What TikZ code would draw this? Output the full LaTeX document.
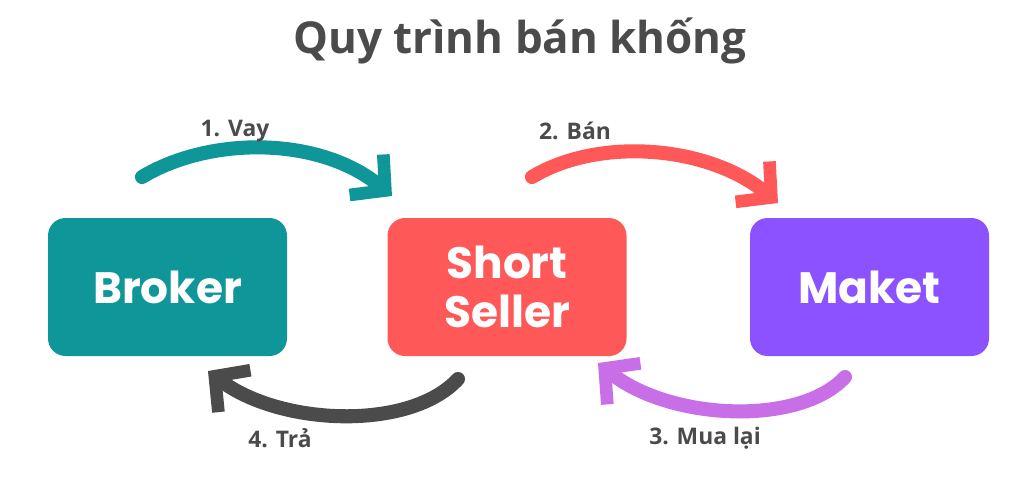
\documentclass[tikz,border=0pt]{standalone}
\usepackage{fontspec}
\setmainfont{Open Sans}
\newfontfamily\boxfont{Poppins}
\usetikzlibrary{arrows.meta}
\definecolor{tealc}{RGB}{14,150,152}
\definecolor{redc}{RGB}{255,88,88}
\definecolor{purplec}{RGB}{140,82,255}
\definecolor{lilac}{RGB}{200,110,230}
\definecolor{darkc}{RGB}{75,75,75}
\begin{document}
\begin{tikzpicture}[
box/.style = {rounded corners=5pt, minimum width=2.39cm, minimum height=1.38cm,
  text=white, font=\boxfont\bfseries\fontsize{12.5}{14}\selectfont, align=center},
flow/.style = {line width=4pt, line cap=round, -{Straight Barb[length=7pt,width=15pt,line width=3.6pt]}},
lab/.style = {text=darkc, font=\bfseries\fontsize{6.5}{8}\selectfont}]
\useasboundingbox (0,0) rectangle (10.27,5.01);
\fill[white] (0,0) rectangle (10.27,5.01);
\node[text=darkc, font=\bfseries\fontsize{12.5}{15}\selectfont] (title) at (5.2,4.6) {Quy trình bán khống};
\node[box, fill=tealc] (broker) at (1.675,2.14) {Broker};
\node[box, fill=redc] (seller) at (5.07,2.14) {Short\\Seller};
\node[box, fill=purplec] (market) at (8.695,2.14) {Maket};
% arrow ends
\coordinate (a1) at (1.42,3.24); \coordinate (b1) at (3.92,3.05);
\coordinate (a2) at (5.32,3.24); \coordinate (b2) at (7.78,2.98);
\coordinate (a3) at (8.45,1.24); \coordinate (b3) at (5.98,1.38);
\coordinate (a4) at (4.58,1.22); \coordinate (b4) at (2.08,1.30);
\draw[flow, tealc] (a1) .. controls (2.1,3.65) and (3.2,3.65) .. (b1);
\draw[flow, redc] (a2) .. controls (6.0,3.65) and (7.1,3.55) .. (b2);
\draw[flow, lilac] (a3) .. controls (8.0,0.75) and (6.7,0.8) .. (b3);
\draw[flow, darkc] (a4) .. controls (4.1,0.7) and (2.8,0.75) .. (b4);
\node[lab] (l1) at (2.35,3.7) {1. Vay};
\node[lab] (l2) at (5.75,3.7) {2. Bán};
\node[lab] (l3) at (7.05,0.63) {3. Mua lại};
\node[lab] (l4) at (2.8,0.63) {4. Trả};
\end{tikzpicture}
\end{document}
